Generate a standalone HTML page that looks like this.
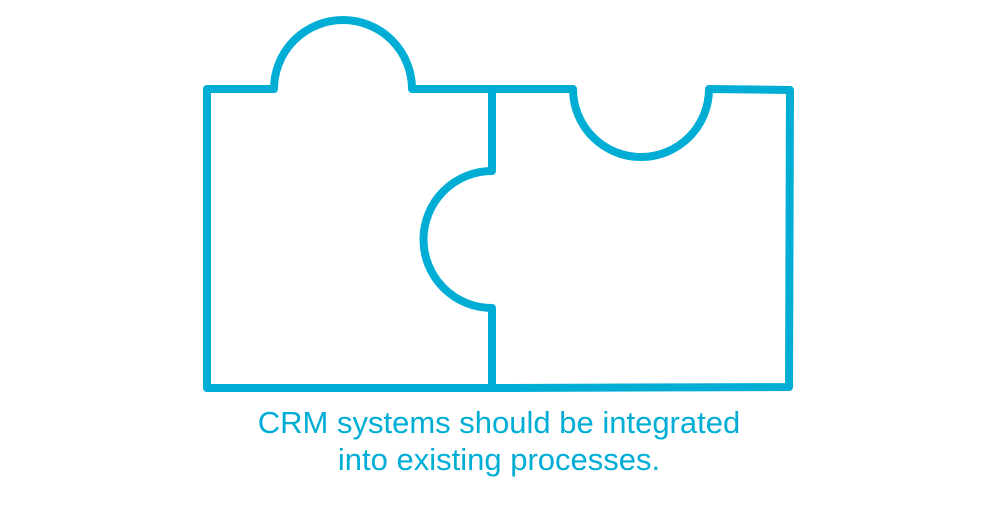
<!DOCTYPE html>
<html><head><style>
body{margin:0;width:998px;height:506px;background:#fff;overflow:hidden;position:relative}
.t{position:absolute;left:0;width:998px;top:404px;text-align:center;color:#00add5;font-family:"Liberation Sans",sans-serif;font-size:31px;line-height:37px}
</style></head><body>
<svg width="998" height="506" style="position:absolute;left:0;top:0" fill="none" stroke="#00add5" stroke-width="8" stroke-linejoin="round" stroke-linecap="round">
<path d="M492 89 L412 89 A69 69 0 0 0 274 89 L207 89 L207 388 L492 388"/>
<path d="M492 89 L573 89 A68 68 0 0 0 709 89 L790 90 L789 387 L492 388 L492 308 A68.5 68.5 0 0 1 492 171 Z"/>
</svg>
<div class="t">CRM systems should be integrated<br>into existing processes.</div>
</body></html>
